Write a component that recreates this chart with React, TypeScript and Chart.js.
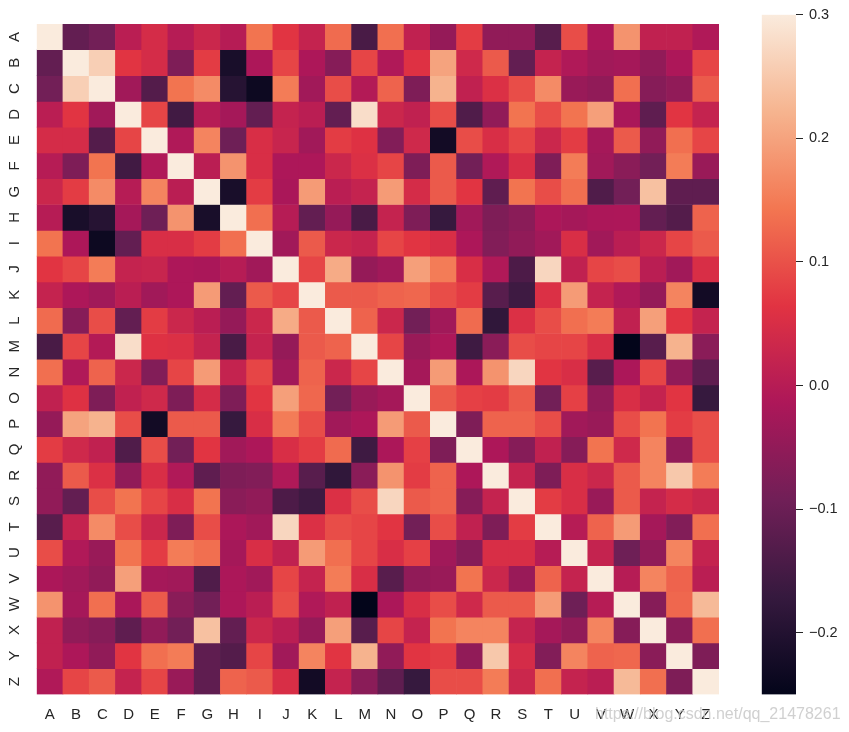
import React, { useEffect, useRef } from "react";
import { Chart, registerables } from "chart.js";

Chart.register(...registerables);

// ---- data ----
const colLabels = ["A","B","C","D","E","F","G","H","I","J","K","L","M","N","O","P","Q","R","S","T","U","V","W","X","Y","Z"];
const rowLabels = ["A","B","C","D","E","F","G","H","I","J","K","L","M","N","O","P","Q","R","S","T","U","V","W","X","Y","Z"];

const rowA = [1, -0.11, -0.09, 0.005, 0.045, 0.0, 0.03, 0.0, 0.14, 0.065, 0.02, 0.13, -0.145, 0.135, 0.015, -0.045, 0.075, -0.05, -0.05, -0.125, 0.095, -0.015, 0.18, 0.015, 0.015, -0.01];
const rowB = [-0.11, 1, 0.26, 0.065, 0.045, -0.075, 0.075, -0.215, -0.014, 0.085, -0.014, -0.065, 0.085, -0.01, 0.06, 0.2, 0.035, 0.11, -0.11, 0.02, -0.01, -0.03, -0.025, -0.05, -0.014, 0.085];
const rowC = [-0.09, 0.26, 1, -0.03, -0.13, 0.14, 0.17, -0.195, -0.235, 0.15, -0.03, 0.095, -0.005, 0.12, -0.075, 0.22, 0.015, 0.055, 0.095, 0.17, -0.04, -0.05, 0.135, -0.065, -0.05, 0.11];
const rowD = [0.005, 0.065, -0.03, 1, 0.085, -0.155, 0.0, -0.025, -0.11, 0.02, 0.005, -0.11, 0.28, 0.03, 0.015, 0.095, -0.135, -0.05, 0.14, 0.095, 0.14, 0.195, -0.018, -0.115, 0.065, 0.02];
const rowE = [0.045, 0.045, -0.13, 0.085, 1, -0.01, 0.16, -0.095, 0.05, 0.025, -0.03, 0.075, 0.06, -0.07, 0.035, -0.225, 0.095, 0.05, 0.085, 0.03, 0.075, -0.025, 0.11, -0.05, 0.135, 0.085];
const rowF = [0.0, -0.075, 0.14, -0.155, -0.01, 1, 0.005, 0.18, 0.05, -0.014, -0.014, 0.03, 0.055, 0.085, -0.075, 0.11, -0.09, -0.01, 0.05, -0.075, 0.15, -0.03, -0.06, -0.09, 0.15, -0.04];
const rowG = [0.03, 0.075, 0.17, 0.0, 0.16, 0.005, 1, -0.215, 0.075, -0.018, 0.19, 0.005, 0.02, 0.19, 0.045, 0.11, 0.065, -0.115, 0.14, 0.095, 0.135, -0.135, -0.09, 0.24, -0.115, -0.115];
const rowH = [0.0, -0.215, -0.195, -0.025, -0.095, 0.18, -0.215, 1, 0.135, 0.0, -0.11, -0.045, -0.145, 0.02, -0.075, -0.17, -0.03, -0.075, -0.06, -0.015, -0.025, -0.015, -0.014, -0.11, -0.13, 0.12];
const rowI = [0.14, -0.014, -0.235, -0.11, 0.05, 0.05, 0.075, 0.135, 1, -0.03, 0.11, 0.03, 0.02, 0.085, 0.065, 0.05, -0.014, -0.07, -0.05, -0.03, 0.05, -0.03, 0.005, 0.03, 0.085, 0.11];
const rowJ = [0.065, 0.085, 0.15, 0.02, 0.025, -0.014, -0.018, 0.0, -0.03, 1, 0.085, 0.21, -0.045, -0.03, 0.195, 0.15, 0.05, -0.01, -0.14, 0.27, 0.015, 0.085, 0.095, 0.005, -0.03, 0.05];
const rowK = [0.02, -0.014, -0.03, 0.005, -0.03, -0.014, 0.19, -0.11, 0.11, 0.085, 1, 0.11, 0.11, 0.12, 0.125, 0.095, 0.075, -0.125, -0.16, 0.055, 0.19, 0.02, -0.01, -0.045, 0.16, -0.225];
const rowL = [0.13, -0.065, 0.095, -0.11, 0.075, 0.03, 0.005, -0.045, 0.03, 0.21, 0.11, 1, 0.12, 0.03, -0.09, -0.03, 0.13, -0.18, 0.055, 0.095, 0.135, 0.15, 0.015, 0.195, 0.065, 0.02];
const rowM = [-0.145, 0.085, -0.005, 0.28, 0.06, 0.055, 0.02, -0.145, 0.02, -0.045, 0.11, 0.12, 1, 0.085, -0.04, -0.014, -0.16, -0.06, 0.095, 0.085, 0.085, 0.05, -0.25, -0.125, 0.22, -0.06];
const rowN = [0.135, -0.01, 0.12, 0.03, -0.07, 0.085, 0.19, 0.02, 0.085, -0.03, 0.12, 0.03, 0.085, 1, -0.025, 0.19, -0.015, 0.18, 0.27, 0.065, 0.05, -0.125, -0.015, 0.085, -0.05, -0.115];
const rowO = [0.015, 0.06, -0.075, 0.015, 0.035, -0.075, 0.045, -0.075, 0.065, 0.195, 0.125, -0.09, -0.04, -0.025, 1, 0.11, 0.08, 0.075, 0.11, -0.09, 0.08, -0.05, 0.05, 0.02, 0.065, -0.17];
const rowP = [-0.045, 0.2, 0.22, 0.095, -0.225, 0.11, 0.11, -0.17, 0.05, 0.15, 0.095, -0.03, -0.014, 0.19, 0.11, 1, -0.075, 0.12, 0.12, 0.095, -0.03, -0.04, 0.095, 0.14, 0.075, 0.095];
const rowQ = [0.075, 0.035, 0.015, -0.135, 0.095, -0.09, 0.065, -0.03, -0.014, 0.05, 0.075, 0.13, -0.16, -0.015, 0.08, -0.075, 1, -0.014, -0.065, 0.015, -0.065, 0.14, 0.035, 0.16, -0.05, 0.095];
const rowR = [-0.05, 0.11, 0.055, -0.05, 0.05, -0.01, -0.115, -0.075, -0.07, -0.01, -0.125, -0.18, -0.06, 0.18, 0.075, 0.12, -0.014, 1, 0.02, -0.075, 0.05, 0.03, 0.11, 0.16, 0.25, 0.15];
const rowS = [-0.05, -0.11, 0.095, 0.14, 0.085, 0.05, 0.14, -0.06, -0.05, -0.14, -0.16, 0.055, 0.095, 0.27, 0.11, 0.12, -0.065, 0.02, 1, 0.075, 0.05, -0.04, 0.11, 0.02, 0.045, 0.03];
const rowT = [-0.125, 0.02, 0.17, 0.095, 0.03, -0.075, 0.095, -0.015, -0.03, 0.27, 0.055, 0.095, 0.085, 0.065, -0.09, 0.095, 0.015, -0.075, 0.075, 1, 0.0, 0.12, 0.19, -0.025, -0.07, 0.135];
const rowU = [0.095, -0.01, -0.04, 0.14, 0.075, 0.15, 0.135, -0.025, 0.05, 0.015, 0.19, 0.135, 0.085, 0.05, 0.08, -0.03, -0.065, 0.05, 0.05, 0.0, 1, 0.02, -0.095, -0.05, 0.16, 0.02];
const rowV = [-0.015, -0.03, -0.05, 0.195, -0.025, -0.03, -0.135, -0.015, -0.03, 0.085, 0.02, 0.15, 0.05, -0.125, -0.05, -0.04, 0.14, 0.03, -0.04, 0.12, 0.02, 1, 0.0, 0.16, 0.12, 0.005];
const rowW = [0.18, -0.025, 0.135, -0.018, 0.11, -0.06, -0.09, -0.014, 0.005, 0.095, -0.01, 0.015, -0.25, -0.015, 0.05, 0.095, 0.035, 0.11, 0.11, 0.19, -0.095, 0.0, 1, -0.065, 0.125, 0.23];
const rowX = [0.015, -0.05, -0.065, -0.115, -0.05, -0.09, 0.24, -0.11, 0.03, 0.005, -0.045, 0.195, -0.125, 0.085, 0.02, 0.14, 0.16, 0.16, 0.02, -0.025, -0.05, 0.16, -0.065, 1, -0.06, 0.135];
const rowY = [0.015, -0.014, -0.05, 0.065, 0.135, 0.15, -0.115, -0.13, 0.085, -0.03, 0.16, 0.065, 0.22, -0.05, 0.065, 0.075, -0.05, 0.25, 0.045, -0.07, 0.16, 0.12, 0.125, -0.06, 1, -0.075];
const rowZ = [-0.01, 0.085, 0.11, 0.02, 0.085, -0.04, -0.115, 0.12, 0.11, 0.05, -0.225, 0.02, -0.06, -0.115, -0.17, 0.095, 0.095, 0.15, 0.03, 0.135, 0.02, 0.005, 0.23, 0.135, -0.075, 1];

const corrRows = [rowA, rowB, rowC, rowD, rowE, rowF, rowG, rowH, rowI, rowJ, rowK, rowL, rowM, rowN, rowO, rowP, rowQ, rowR, rowS, rowT, rowU, rowV, rowW, rowX, rowY, rowZ];

const colorbarTicks = [-0.2, -0.1, 0.0, 0.1, 0.2, 0.3];
const vmin = -0.25;
const vmax = 0.3;

// seaborn "rocket" colormap stops
const rocketStops: [number, string][] = [
  [0.0, "#03051a"],
  [1 / 7, "#35193e"],
  [2 / 7, "#701f57"],
  [3 / 7, "#ad1759"],
  [4 / 7, "#e13342"],
  [5 / 7, "#f37651"],
  [6 / 7, "#f6b48f"],
  [1.0, "#faebdd"],
];

function hexToRgb(h: string) {
  return [parseInt(h.slice(1, 3), 16), parseInt(h.slice(3, 5), 16), parseInt(h.slice(5, 7), 16)];
}

function rocket(t: number) {
  const tt = Math.max(0, Math.min(1, t));
  for (let i = 0; i < rocketStops.length - 1; i++) {
    const [t0, c0] = rocketStops[i];
    const [t1, c1] = rocketStops[i + 1];
    if (tt <= t1) {
      const f = (tt - t0) / (t1 - t0);
      const a = hexToRgb(c0);
      const b = hexToRgb(c1);
      const r = Math.round(a[0] + (b[0] - a[0]) * f);
      const g = Math.round(a[1] + (b[1] - a[1]) * f);
      const bl = Math.round(a[2] + (b[2] - a[2]) * f);
      return `rgb(${r},${g},${bl})`;
    }
  }
  return rocketStops[rocketStops.length - 1][1];
}

function colorFor(v: number) {
  return rocket((v - vmin) / (vmax - vmin));
}

const TEXT = "#262626";
const FONT = "'Liberation Sans', Arial, sans-serif";

export default function App() {
  const heatRef = useRef<HTMLCanvasElement>(null);
  const barRef = useRef<HTMLCanvasElement>(null);

  useEffect(() => {
    Chart.defaults.font.family = FONT;

    const heat = new Chart(heatRef.current as HTMLCanvasElement, {
      type: "bar",
      data: {
        labels: colLabels,
        datasets: corrRows.map((row, r) => ({
          label: rowLabels[r],
          data: row.map(() => 1),
          backgroundColor: row.map((v) => colorFor(v)),
          borderWidth: 0,
          categoryPercentage: 1,
          barPercentage: 1,
        })),
      },
      options: {
        responsive: false,
        maintainAspectRatio: false,
        animation: false,
        layout: { padding: { left: 0, top: 14.7, right: 11, bottom: 0 } },
        plugins: { legend: { display: false }, tooltip: { enabled: false } },
        scales: {
          x: {
            type: "category",
            stacked: true,
            offset: true,
            grid: { display: false, drawTicks: false },
            border: { display: false },
            ticks: {
              autoSkip: false,
              maxRotation: 0,
              minRotation: 0,
              padding: 11,
              color: TEXT,
              font: { size: 15, family: FONT },
            },
            afterFit: (s: any) => {
              s.height = 37.5;
            },
          },
          y: {
            type: "linear",
            stacked: true,
            min: 0,
            max: 26,
            reverse: true,
            grid: { display: false, drawTicks: false },
            border: { display: false },
            afterBuildTicks: (s: any) => {
              s.ticks = rowLabels.map((_, i) => ({ value: i + 0.5 }));
            },
            ticks: {
              autoSkip: false,
              minRotation: 90,
              maxRotation: 90,
              crossAlign: "center",
              padding: 15,
              color: TEXT,
              font: { size: 15, family: FONT },
              callback: (_v: any, i: number) => rowLabels[i],
            },
            afterFit: (s: any) => {
              s.width = 36.7;
            },
          },
        },
      },
    } as any);

    const makeGradient = (chart: any) => {
      const area = chart.chartArea;
      if (!area) return rocketStops[3][1];
      const g = chart.ctx.createLinearGradient(0, area.bottom, 0, area.top);
      rocketStops.forEach(([t, c]) => g.addColorStop(t, c));
      return g;
    };

    const bar = new Chart(barRef.current as HTMLCanvasElement, {
      type: "bar",
      data: {
        labels: [""],
        datasets: [
          {
            data: [[vmin, vmax]],
            backgroundColor: (c: any) => makeGradient(c.chart),
            borderWidth: 0,
            categoryPercentage: 1,
            barPercentage: 1,
          },
        ],
      },
      options: {
        responsive: false,
        maintainAspectRatio: false,
        animation: false,
        layout: { padding: { left: 21.7, top: 14.7, right: 0, bottom: 37.5 } },
        plugins: { legend: { display: false }, tooltip: { enabled: false } },
        scales: {
          x: { display: false, offset: true },
          y: {
            position: "right",
            min: vmin,
            max: vmax,
            afterBuildTicks: (s: any) => {
              s.ticks = colorbarTicks.map((v) => ({ value: v }));
            },
            grid: { drawOnChartArea: false, drawTicks: true, tickLength: 7, color: TEXT, lineWidth: 1 },
            border: { display: false },
            ticks: {
              padding: 6,
              color: TEXT,
              font: { size: 14.5, family: FONT },
              callback: (v: any) => {
                const n = Number(v);
                return (n < -1e-9 ? "\u2212" : "") + Math.abs(n).toFixed(1);
              },
            },
            afterFit: (s: any) => {
              s.width = 53;
            },
          },
        },
      },
    } as any);

    return () => {
      heat.destroy();
      bar.destroy();
    };
  }, []);

  return (
    <div style={{ position: "fixed", left: 0, top: 0, width: 849, height: 732, background: "#ffffff", overflow: "hidden" }}>
      <canvas
        ref={heatRef}
        width={730}
        height={732}
        style={{ position: "absolute", left: 0, top: 0, width: 730, height: 732 }}
      />
      <canvas
        ref={barRef}
        width={109}
        height={732}
        style={{ position: "absolute", left: 740, top: 0, width: 109, height: 732 }}
      />
      <div
        style={{
          position: "absolute",
          left: 595,
          top: 705,
          fontFamily: FONT,
          fontSize: 16,
          lineHeight: "18px",
          color: "rgba(200,200,200,0.85)",
          whiteSpace: "nowrap",
          pointerEvents: "none",
        }}
      >
        https://blog.csdn.net/qq_21478261
      </div>
    </div>
  );
}
